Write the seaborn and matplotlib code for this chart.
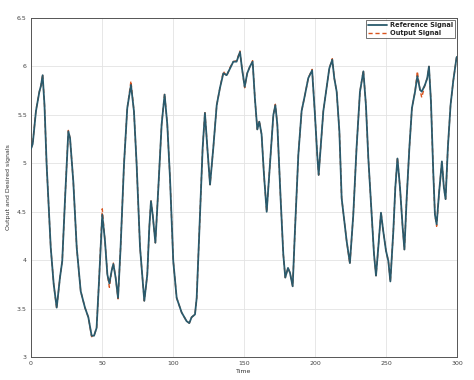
import matplotlib
matplotlib.use("Agg")
import matplotlib.pyplot as plt
import seaborn as sns
import pandas as pd
from matplotlib.lines import Line2D

time = [0, 1.2, 3.5, 5.9, 7, 8.2, 9.5, 11, 13.9, 16, 18.1, 20.4, 22, 24, 26.3, 27.5,
        29.8, 32.2, 35, 38, 40.4, 42.7, 44.4, 46.2, 47.9, 50.2, 52.1, 53.8, 55.2, 56.8,
        58, 59.6, 61.3, 63.1, 65.5, 67.8, 70.4, 72.5, 74.4, 76.8, 79.8, 81.9, 83.3, 84.5,
        85.7, 87.6, 89.7, 92, 94.1, 96, 97.9, 100.2, 102.6, 106.1, 109.6, 111.5, 113.1,
        115.5, 116.7, 119, 120.9, 122.5, 124.2, 126.1, 128.4, 130.8, 133.1, 135.5, 137.8,
        140.2, 142.5, 144.8, 147.2, 148.6, 150.5, 152.3, 154.2, 156.1, 157.7, 159.4,
        160.8, 162.4, 164.1, 166, 168.3, 170.7, 172.1, 173.5, 175.8, 177.7, 179.1, 181,
        182.4, 184.3, 185.9, 188.3, 190.6, 193, 195.3, 198.0, 200, 201.6, 202.6, 204,
        205.9, 208.2, 210.1, 212.2, 213.6, 215.3, 217.2, 218.8, 220.7, 222.3, 224.6, 227,
        229.3, 231.7, 234.1, 235.9, 237.6, 239.9, 241.6, 243, 244.6, 246.5, 248.1, 250,
        251.7, 253.1, 255.2, 256.6, 258.1, 259.9, 261.8, 263, 264.6, 266.5, 268.3, 270.5,
        272.1, 274, 275.2, 277.5, 279.1, 280.3, 281.7, 283.3, 284.5, 285.7, 287.5, 289.4,
        290.8, 292, 293.6, 295.5, 297.4, 299.7, 300]

reference = [5.15, 5.2, 5.54, 5.74, 5.8, 5.91, 5.6, 4.99, 4.13, 3.75, 3.51, 3.82, 3.99, 4.64,
             5.33, 5.26, 4.81, 4.13, 3.68, 3.51, 3.41, 3.22, 3.22, 3.3, 3.78, 4.47, 4.2, 3.85,
             3.76, 3.89, 3.96, 3.82, 3.61, 4.13, 4.99, 5.57, 5.81, 5.54, 4.99, 4.13, 3.58,
             3.85, 4.33, 4.61, 4.47, 4.18, 4.75, 5.40, 5.71, 5.40, 4.85, 3.99, 3.61, 3.46,
             3.37, 3.35, 3.41, 3.44, 3.61, 4.47, 5.16, 5.52, 5.16, 4.78, 5.16, 5.60, 5.78,
             5.93, 5.91, 5.98, 6.05, 6.05, 6.15, 5.98, 5.79, 5.93, 6.0, 6.05, 5.67, 5.35,
             5.43, 5.30, 4.88, 4.5, 4.99, 5.50, 5.60, 5.40, 4.64, 4.06, 3.82, 3.92, 3.87,
             3.73, 4.30, 5.09, 5.54, 5.71, 5.88, 5.96, 5.50, 5.09, 4.88, 5.16, 5.54, 5.78,
             5.98, 6.07, 5.88, 5.74, 5.33, 4.64, 4.40, 4.20, 3.97, 4.47, 5.16, 5.74, 5.95,
             5.60, 5.05, 4.47, 4.06, 3.84, 4.13, 4.49, 4.30, 4.10, 3.99, 3.78, 4.30, 4.75,
             5.05, 4.75, 4.33, 4.11, 4.64, 5.16, 5.57, 5.74, 5.90, 5.76, 5.74, 5.81, 5.88,
             6.0, 5.64, 4.92, 4.47, 4.37, 4.71, 5.02, 4.75, 4.63, 5.16, 5.60, 5.85, 6.09, 6.1]

output = [5.15, 5.2, 5.55, 5.74, 5.8, 5.92, 5.6, 4.99, 4.13, 3.75, 3.5, 3.82, 3.99, 4.64,
          5.34, 5.26, 4.81, 4.13, 3.68, 3.51, 3.41, 3.21, 3.22, 3.3, 3.78, 4.53, 4.2, 3.85,
          3.72, 3.89, 3.97, 3.82, 3.60, 4.13, 4.99, 5.57, 5.85, 5.54, 4.99, 4.13, 3.58,
          3.85, 4.33, 4.62, 4.47, 4.18, 4.75, 5.40, 5.72, 5.40, 4.85, 3.99, 3.61, 3.46,
          3.37, 3.35, 3.41, 3.44, 3.61, 4.47, 5.16, 5.53, 5.16, 4.78, 5.16, 5.60, 5.78,
          5.95, 5.90, 5.99, 6.05, 6.06, 6.16, 5.98, 5.78, 5.93, 6.0, 6.06, 5.67, 5.35,
          5.44, 5.30, 4.88, 4.5, 4.99, 5.50, 5.61, 5.40, 4.64, 4.06, 3.82, 3.92, 3.87,
          3.73, 4.30, 5.09, 5.54, 5.71, 5.88, 5.97, 5.50, 5.09, 4.88, 5.16, 5.54, 5.78,
          5.98, 6.08, 5.88, 5.74, 5.33, 4.64, 4.40, 4.20, 3.96, 4.47, 5.16, 5.74, 5.96,
          5.60, 5.05, 4.47, 4.06, 3.84, 4.13, 4.50, 4.30, 4.10, 3.99, 3.78, 4.30, 4.75,
          5.06, 4.75, 4.33, 4.11, 4.64, 5.16, 5.57, 5.74, 5.95, 5.76, 5.68, 5.81, 5.88,
          6.0, 5.64, 4.92, 4.47, 4.35, 4.71, 5.02, 4.75, 4.63, 5.16, 5.60, 5.85, 6.09, 6.1]

x_ticks = [0, 50, 100, 150, 200, 250, 300]
y_ticks = [3, 3.5, 4, 4.5, 5, 5.5, 6, 6.5]
y_tick_labels = ["3", "3.5", "4", "4.5", "5", "5.5", "6", "6.5"]

df = pd.DataFrame({
    "Time": time * 2,
    "value": reference + output,
    "series": ["Reference Signal"] * len(time) + ["Output Signal"] * len(time),
})

sns.set_style("whitegrid")
plt.rcParams["font.family"] = ["DejaVu Sans"]

fig = plt.figure(figsize=(4.74, 3.80), dpi=100)
ax = fig.add_axes([0.0654, 0.0605, 0.8986, 0.892])

ref_color = "#2a5a6c"
out_color = "#d9531e"

sns.lineplot(data=df[df["series"] == "Output Signal"], x="Time", y="value",
             color=out_color, linestyle=(0, (3, 2)), linewidth=1.0, ax=ax,
             label="_nolegend_", estimator=None, sort=False)
sns.lineplot(data=df[df["series"] == "Reference Signal"], x="Time", y="value",
             color=ref_color, linewidth=1.3, ax=ax, label="_nolegend_",
             estimator=None, sort=False)
ax.lines[0].set_zorder(2)
ax.lines[1].set_zorder(3)

ax.set_xlim(0, 300)
ax.set_ylim(3, 6.5)
ax.set_xticks(x_ticks)
ax.set_yticks(y_ticks)
ax.set_yticklabels(y_tick_labels)
ax.tick_params(axis="both", labelsize=4.5, colors="#444444", direction="in",
               length=2.5, width=0.5, pad=3)
ax.grid(True, color="#e3e3e3", linewidth=0.6)
for sp in ax.spines.values():
    sp.set_color("#555555")
    sp.set_linewidth(0.7)
    sp.set_visible(True)

ax.set_xlabel("Time", fontsize=4.5, color="#333333", labelpad=2)
ax.set_ylabel("Output and Desired signals", fontsize=4.5, color="#333333", labelpad=4)

handles = [Line2D([0], [0], color=ref_color, linewidth=1.3),
           Line2D([0], [0], color=out_color, linewidth=1.0, linestyle=(0, (3, 2)))]
leg = ax.legend(handles, ["Reference Signal", "Output Signal"], loc="upper right",
                prop={"weight": "bold", "size": 4.8}, frameon=True,
                fancybox=False, borderpad=0.35, handlelength=2.8, handletextpad=0.4,
                labelspacing=0.3, borderaxespad=0.25)
leg.get_frame().set_edgecolor("#333333")
leg.get_frame().set_linewidth(0.6)

fig.savefig("out.png", dpi=100)
